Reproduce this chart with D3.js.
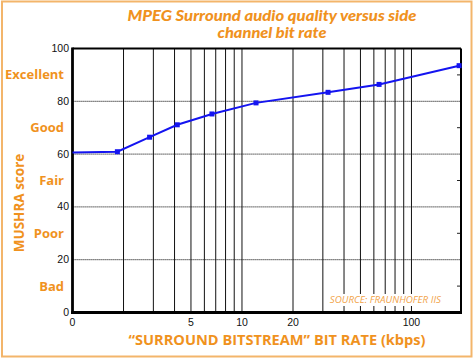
<!DOCTYPE html>
<html><head><meta charset="utf-8">
<script src="https://cdn.jsdelivr.net/npm/d3@7"></script>
<style>body{margin:0;background:#fff}</style>
</head><body>
<script>
const rates = [1, 1.84, 2.85, 4.15, 6.65, 12.1, 32.2, 64.4, 191];
const scores = [60.6, 60.9, 66.4, 71.1, 75.2, 79.4, 83.4, 86.4, 93.5];
const xGrid = [2,3,4,5,6,7,8,9,10,20,30,40,50,60,70,80,90,100];
const xTickValues = [1, 5, 10, 20, 100];
const xTickLabels = ["0", "5", "10", "20", "100"];
const yTicks = [0, 20, 40, 60, 80, 100];
const yMinor = [10, 30, 50, 70, 90];
const qualityLabels = ["Bad", "Poor", "Fair", "Good", "Excellent"];
const qualityValues = [10, 30, 50, 70, 90];
const titleLines = ["MPEG Surround audio quality versus side", "channel bit rate"];
const titleWidths = [289, 109];

const W = 475, H = 360;
const orange = "#f0921e";
const svg = d3.select("body").append("svg").attr("width", W).attr("height", H);

svg.append("rect").attr("x", 2).attr("y", 1.5).attr("width", 469.5).attr("height", 355)
  .attr("fill", "#fff").attr("stroke", "#f3b56b").attr("stroke-width", 2);

const L = 72.5, R = 461, T = 48.5, B = 312.5;
const x = d3.scaleLog().domain([1, 196]).range([L, R]);
const y = d3.scaleLinear().domain([0, 100]).range([B, T]);

const g = svg.append("g");
// horizontal grid (dotted)
g.selectAll(".hg").data([20, 40, 60, 80]).join("line")
  .attr("x1", L).attr("x2", R).attr("y1", d => y(d)).attr("y2", d => y(d))
  .attr("stroke", "#222").attr("stroke-width", 1).attr("stroke-dasharray", "1.2,0.8");
// vertical grid
g.selectAll(".vg").data(xGrid).join("line")
  .attr("x1", d => x(d)).attr("x2", d => x(d)).attr("y1", T).attr("y2", B)
  .attr("stroke", "#111").attr("stroke-width", 1);
// right minor ticks
g.selectAll(".rt").data(yMinor).join("line")
  .attr("x1", R - 4).attr("x2", R).attr("y1", d => y(d)).attr("y2", d => y(d))
  .attr("stroke", "#222").attr("stroke-width", 1);

// source (with white backing)
svg.append("rect").attr("x", 326).attr("y", 294).attr("width", 118).attr("height", 12).attr("fill", "#fff");
svg.append("text").attr("x", 441).attr("y", 303).attr("text-anchor", "end")
  .attr("font-family", "Open Sans, sans-serif").attr("font-style", "italic").attr("font-size", 9.8).attr("fill", "#f2a348")
  .text("SOURCE: FRAUNHOFER IIS");

// frame
g.append("line").attr("x1", L).attr("x2", R).attr("y1", T).attr("y2", T).attr("stroke", "#000").attr("stroke-width", 2);
g.append("line").attr("x1", R).attr("x2", R).attr("y1", T).attr("y2", B).attr("stroke", "#000").attr("stroke-width", 2);
g.append("line").attr("x1", L).attr("x2", L).attr("y1", T - 1).attr("y2", B + 1.5).attr("stroke", "#000").attr("stroke-width", 2.8);
g.append("line").attr("x1", L - 1.4).attr("x2", R + 1).attr("y1", B).attr("y2", B).attr("stroke", "#000").attr("stroke-width", 2.8);

// y tick labels
svg.selectAll(".yl").data(yTicks).join("text")
  .attr("x", 69).attr("y", d => y(d) + 3.5).attr("text-anchor", "end")
  .attr("font-family", "Liberation Sans, Arial, sans-serif").attr("font-size", 10.5).attr("fill", "#111")
  .text(d => d);
// x tick labels
svg.selectAll(".xl").data(xTickValues).join("text")
  .attr("x", d => x(d)).attr("y", 325.5).attr("text-anchor", "middle")
  .attr("font-family", "Liberation Sans, Arial, sans-serif").attr("font-size", 10.5).attr("fill", "#111")
  .text((d, i) => xTickLabels[i]);

// quality labels
svg.selectAll(".ql").data(qualityValues).join("text")
  .attr("x", 64).attr("y", d => y(d) + 4.5).attr("text-anchor", "end")
  .attr("font-family", "Open Sans, sans-serif").attr("font-weight", "bold").attr("font-size", 13).attr("fill", orange)
  .text((d, i) => qualityLabels[i]);

// title (two separate lines)
svg.selectAll(".tl").data(titleLines).join("text")
  .attr("x", 272).attr("y", (d, i) => 20.5 + i * 17.5).attr("text-anchor", "middle")
  .attr("font-family", "Lato, sans-serif").attr("font-weight", 900).attr("font-style", "italic")
  .attr("font-size", 14.5).attr("fill", orange)
  .attr("textLength", (d, i) => titleWidths[i]).attr("lengthAdjust", "spacingAndGlyphs")
  .text(d => d);

// y title
svg.append("text").attr("transform", "translate(24,203) rotate(-90)").attr("text-anchor", "middle")
  .attr("font-family", "Open Sans, sans-serif").attr("font-weight", "bold").attr("font-size", 13.5).attr("fill", orange)
  .text("MUSHRA score");
// x title
svg.append("text").attr("x", 277).attr("y", 345).attr("text-anchor", "middle")
  .attr("font-family", "Open Sans, sans-serif").attr("font-weight", "bold").attr("font-size", 14.6).attr("fill", orange)
  .text("“SURROUND BITSTREAM” BIT RATE (kbps)");

// data line
const pts = rates.map((r, i) => [x(r), y(scores[i])]);
svg.append("path").attr("d", d3.line()(pts))
  .attr("fill", "none").attr("stroke", "#1414f0").attr("stroke-width", 2);
svg.selectAll(".pt").data(pts.slice(1)).join("rect")
  .attr("x", d => d[0] - 2.5).attr("y", d => d[1] - 2.5).attr("width", 5).attr("height", 5)
  .attr("fill", "#1414f0");
</script>
</body></html>
